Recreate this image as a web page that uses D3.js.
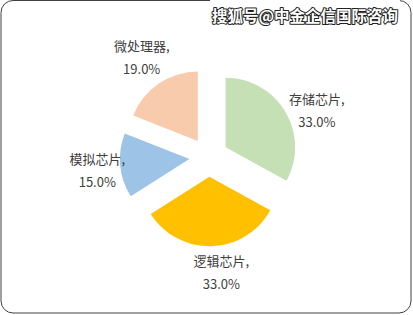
<!DOCTYPE html>
<html><head><meta charset="utf-8">
<script src="https://cdn.jsdelivr.net/npm/d3@7"></script>
<style>html,body{margin:0;padding:0;background:#fff;}svg{display:block;}</style>
</head><body>
<svg id="c" width="413" height="315"></svg>
<script>
const categories = ["存储芯片", "逻辑芯片", "模拟芯片", "微处理器"];
const values = [33.0, 33.0, 15.0, 19.0];
const colors = ["#C5E0B4", "#FFC000", "#9DC3E6", "#F8CBAD"];
const watermark = "搜狐号@中金企信国际咨询";

const svg = d3.select("#c");
const W = 413, H = 315;
svg.append("rect").attr("x", 1).attr("y", 0.5).attr("width", 410).attr("height", 312.5)
  .attr("rx", 12).attr("ry", 12).attr("fill", "#fff").attr("stroke", "#404040").attr("stroke-width", 1);

const cx = 208.8, cy = 157.2, R = 69.5, explode = 19.5;
const pie = d3.pie().value(d => d).sort(null);
const arcs = pie(values);
const arc = d3.arc().innerRadius(0).outerRadius(R);
const g = svg.append("g").attr("transform", `translate(${cx},${cy})`);

// label nudges (layout only)
const labelR = 114;
const nudge = [[10, 12], [9, 2], [2, 3], [-3, -5]];

arcs.forEach((a, i) => {
  const mid = (a.startAngle + a.endAngle) / 2;
  const ox = Math.sin(mid) * explode, oy = -Math.cos(mid) * explode;
  g.append("path").attr("d", arc(a)).attr("fill", colors[i])
    .attr("transform", `translate(${ox},${oy})`);
  const lx = Math.sin(mid) * labelR + nudge[i][0];
  const ly = -Math.cos(mid) * labelR + nudge[i][1];
  const t = g.append("text").attr("text-anchor", "middle")
    .attr("font-family", "'Noto Sans CJK SC', 'Noto Sans', sans-serif")
    .attr("font-size", 13).attr("fill", "#404040");
  t.append("tspan").attr("x", lx).attr("y", ly - 11.5).attr("dy", "0.35em").text(categories[i] + ",");
  t.append("tspan").attr("x", lx).attr("y", ly + 11.5).attr("dy", "0.35em").text(values[i].toFixed(1) + "%");
});

// watermark
svg.append("rect").attr("x", 210).attr("y", 0).attr("width", 190).attr("height", 4).attr("fill", "#fff");
svg.append("text").attr("x", 305).attr("y", 16.5).attr("dy", "0.35em").attr("text-anchor", "middle")
  .attr("font-family", "'Noto Sans CJK SC', sans-serif").attr("font-weight", "bold")
  .attr("font-size", 15.5).attr("fill", "#fff").attr("stroke", "#222").attr("stroke-width", 2)
  .attr("paint-order", "stroke").attr("stroke-linejoin", "round").text(watermark);
</script>
</body></html>
